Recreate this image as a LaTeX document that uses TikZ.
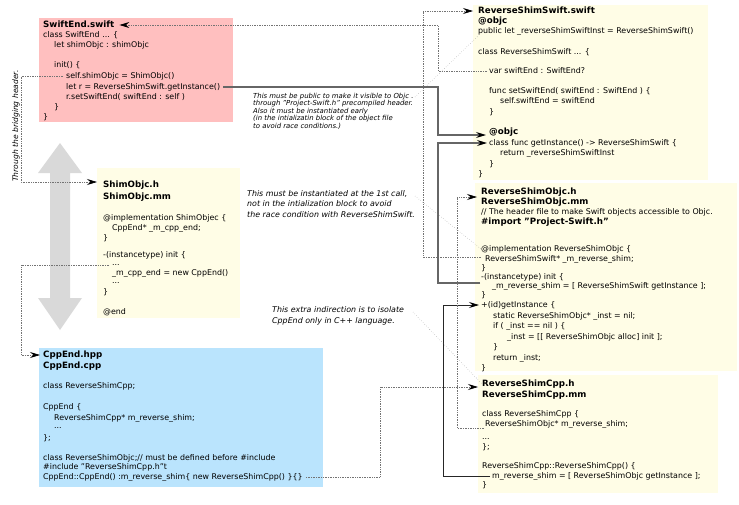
\documentclass[tikz,border=0pt]{standalone}
\usepackage{fontspec}
\setmainfont{DejaVu Sans}
\usetikzlibrary{arrows.meta}
\definecolor{pinkbox}{RGB}{255,191,191}
\definecolor{yelbox}{RGB}{255,253,230}
\definecolor{bluebox}{RGB}{186,228,253}
\definecolor{bigarrow}{RGB}{217,217,217}
\begin{document}
\begin{tikzpicture}[x=1pt,y=-1pt,
  ln/.style={anchor=west, inner sep=0pt, text height=5.8pt, text depth=0pt, font=\fontsize{7.9}{9}\selectfont},
  ttl/.style={anchor=west, inner sep=0pt, text height=5.8pt, text depth=0pt, font=\fontsize{8.7}{10}\selectfont\bfseries},
  dts/.style={anchor=base west, inner sep=0pt, font=\fontsize{7.9}{9}\selectfont},
  bx/.style={anchor=north west, inner sep=0pt, outer sep=0pt, draw=none},
  dotc/.style={draw=black!55, densely dotted, line width=0.7pt},
  solc/.style={draw=black!60, line width=1.1pt},
  sold/.style={draw=black!85, line width=0.8pt},
  tip/.style={-{Stealth[length=10pt,width=6pt,inset=3.5pt,color=black]}},
  diag/.style={draw=black!50, dotted, line width=0.4pt},
  notea/.style={anchor=north west, inner sep=0pt, align=left, font=\fontsize{6.9}{7.5}\selectfont\itshape},
  noteb/.style={anchor=north west, inner sep=0pt, align=left, font=\fontsize{7.9}{10.5}\selectfont\itshape},
  notec/.style={anchor=north west, inner sep=0pt, align=left, font=\fontsize{7.9}{11.5}\selectfont\itshape},
 ]
\useasboundingbox (0,0) rectangle (739,504);

% boxes
\node[bx, fill=pinkbox, minimum width=194pt, minimum height=104pt] (seBox) at (39,18) {};
\node[bx, fill=yelbox, minimum width=235pt, minimum height=175pt] (rssBox) at (473,5) {};
\node[bx, fill=yelbox, minimum width=262pt, minimum height=188pt] (rsoBox) at (475,183) {};
\node[bx, fill=yelbox, minimum width=240pt, minimum height=118pt] (rscBox) at (478,375) {};
\node[bx, fill=yelbox, minimum width=143pt, minimum height=150pt] (soBox) at (97,168) {};
\node[bx, fill=bluebox, minimum width=284pt, minimum height=139pt] (ceBox) at (39,348) {};

% big double arrow
\fill[bigarrow] (60,143) -- (82,173) -- (70,173) -- (70,298) -- (82,298) -- (60,330)
  -- (38,298) -- (50,298) -- (50,173) -- (38,173) -- cycle;

% SwiftEnd.swift
\node[ttl] (seT) at (43,25) {SwiftEnd.swift};
\node[ln] (se1) at (43,35) {class SwiftEnd ... \{};
\node[ln] (se2) at (54,45) {let shimObjc : shimObjc};
\node[ln] (se3) at (54,65) {init() \{};
\node[ln] (seSelf) at (66,76) {self.shimObjc = ShimObjc()};
\node[ln] (seLetr) at (66,87) {let r = ReverseShimSwift.getInstance()};
\node[ln] (se4) at (66,97) {r.setSwiftEnd( swiftEnd : self )};
\node[ln] (se5) at (54,107) {\}};
\node[ln] (se6) at (43,117) {\}};

% ReverseShimSwift.swift
\node[ttl] (rssT) at (478,11) {ReverseShimSwift.swift};
\node[ttl] (rssObjc1) at (478,21) {@objc};
\node[ln] (rssPub) at (478,31) {public let \_reverseShimSwiftInst = ReverseShimSwift()};
\node[ln] (rss1) at (478,52) {class ReverseShimSwift ... \{};
\node[ln] (rssVar) at (489,71) {var swiftEnd : SwiftEnd?};
\node[ln] (rss2) at (489,91) {func setSwiftEnd( swiftEnd : SwiftEnd ) \{};
\node[ln] (rss3) at (500,101) {self.swiftEnd = swiftEnd};
\node[ln] (rss4) at (489,112) {\}};
\node[ttl] (rssObjc2) at (489,132) {@objc};
\node[ln] (rssGi) at (489,143) {class func getInstance() -> ReverseShimSwift \{};
\node[ln] (rss5) at (500,153) {return \_reverseShimSwiftInst};
\node[ln] (rss6) at (489,164) {\}};
\node[ln] (rss7) at (478,174) {\}};

% ReverseShimObjc
\node[ttl] (rsoT) at (481,192) {ReverseShimObjc.h};
\node[ttl] (rsoT2) at (481,202) {ReverseShimObjc.mm};
\node[ln] (rso1) at (481,212) {// The header file to make Swift objects accessible to Objc.};
\node[ttl] (rso2) at (481,222) {\#import "Project-Swift.h"};
\node[ln] (rsoImpl) at (481,249) {@implementation ReverseShimObjc \{};
\node[ln] (rsoMem) at (485,259) {ReverseShimSwift* \_m\_reverse\_shim;};
\node[ln] (rso3) at (481,268) {\}};
\node[ln] (rso4) at (481,277) {-(instancetype) init \{};
\node[ln] (rsoInit) at (492,286) {\_m\_reverse\_shim = [ ReverseShimSwift getInstance ];};
\node[ln] (rso5) at (481,295) {\}};
\node[ln] (rsoGi) at (481,305) {+(id)getInstance \{};
\node[ln] (rso6) at (493,316) {static ReverseShimObjc* \_inst = nil;};
\node[ln] (rso7) at (493,326) {if ( \_inst == nil ) \{};
\node[ln] (rso8) at (507,337) {\_inst = [[ ReverseShimObjc alloc] init ];};
\node[ln] (rso9) at (493,347) {\}};
\node[ln] (rso10) at (493,358) {return \_inst;};
\node[ln] (rso11) at (481,368) {\}};

% ReverseShimCpp
\node[ttl] (rscT) at (482,384) {ReverseShimCpp.h};
\node[ttl] (rscT2) at (482,395) {ReverseShimCpp.mm};
\node[ln] (rsc1) at (482,414) {class ReverseShimCpp \{};
\node[ln] (rscMem) at (485,424) {ReverseShimObjc* m\_reverse\_shim;};
\node[dts] (rsc2) at (482,439) {...};
\node[ln] (rsc3) at (482,447) {\};};
\node[ln] (rsc4) at (482,466) {ReverseShimCpp::ReverseShimCpp() \{};
\node[ln] (rscBody) at (492,476) {m\_reverse\_shim = [ ReverseShimObjc getInstance ];};
\node[ln] (rsc5) at (482,485) {\}};

% ShimObjc
\node[ttl] (soT) at (103,185) {ShimObjc.h};
\node[ttl] (soT2) at (103,197) {ShimObjc.mm};
\node[ln] (so1) at (103,218) {@implementation ShimObjec \{};
\node[ln] (so2) at (112,228) {CppEnd* \_m\_cpp\_end;};
\node[ln] (so3) at (103,238) {\}};
\node[ln] (so4) at (103,255) {-(instancetype) init \{};
\node[dts] (so5) at (112,265) {...};
\node[ln] (soNew) at (112,273) {\_m\_cpp\_end = new CppEnd()};
\node[dts] (so6) at (112,283) {...};
\node[ln] (so7) at (103,292) {\}};
\node[ln] (so8) at (103,312) {@end};

% CppEnd
\node[ttl] (ceT) at (43,355) {CppEnd.hpp};
\node[ttl] (ceT2) at (43,366) {CppEnd.cpp};
\node[ln] (ce1) at (43,386) {class ReverseShimCpp;};
\node[ln] (ce2) at (43,407) {CppEnd \{};
\node[ln] (ce3) at (54,418) {ReverseShimCpp* m\_reverse\_shim;};
\node[dts] (ce4) at (54,428) {...};
\node[ln] (ce5) at (43,438) {\};};
\node[ln] (ce6) at (43,458) {class ReverseShimObjc;// must be defined before \#include};
\node[ln] (ce7) at (43,467) {\#include "ReverseShimCpp.h"t};
\node[ln] (ceLast) at (43,477) {CppEnd::CppEnd() :m\_reverse\_shim\{ new ReverseShimCpp() \}\{\}};

% notes
\node[notea] (n1) at (253,93) {This must be public to make it visible to Objc .\\through "Project-Swift.h" precompiled header.\\Also it must be instantiated early\\(in the intializatin block of the object file\\to avoid race conditions.)};
\node[noteb] (n2) at (247,190) {This must be instantiated at the 1st call,\\not in the intialization block to avoid\\the race condition with ReverseShimSwift.};
\node[notec] (n3) at (272,306) {This extra indirection is to isolate\\CppEnd only in C++ language.};
\node[rotate=90, inner sep=0pt, font=\fontsize{7.6}{9}\selectfont\itshape] (bh) at (16,126) {Through the bridging header.};

% bend coordinates
\coordinate (xA) at (438,0);
\coordinate (xB) at (423,0);
\coordinate (xC) at (443,0);
\coordinate (k4) at (438,283);
\coordinate (k6) at (457,428);
\coordinate (k7) at (380,477);
\coordinate (k8) at (21,265);
\coordinate (k9) at (21,76);
\coordinate (d1) at (415,97);
\coordinate (d2) at (415,196);
\coordinate (d3) at (413,312);

% connectors
\draw[dotc,tip,shorten >=5pt,shorten <=2pt] (rssVar.west) -- (rssVar.west -| xA) |- (seT.east);
\draw[dotc,tip,shorten >=5pt,shorten <=4pt] ([yshift=2pt]rsoMem.west) -- ([yshift=2pt]rsoMem.west -| xB) |- (rssT.west);
\draw[solc,tip,shorten >=3pt,shorten <=3pt] (seLetr.east) -- (seLetr.east -| xA) |- ([yshift=-3pt]rssObjc2.west);
\draw[solc,tip,shorten >=2pt] ([xshift=-12pt,yshift=3pt]rsoInit.west) -- (k4) |- (rssGi.west);
\draw[sold,tip,shorten >=2pt,shorten <=2pt] (rscBody.west) -- (rscBody.west -| xC) |- (rsoGi.west);
\draw[dotc,tip,shorten >=4pt] ([xshift=-1pt,yshift=-4pt]rscMem.west) -- (k6) |- ([yshift=-5pt]rsoT.west);
\draw[dotc,tip,shorten >=4pt,shorten <=3pt] (ceLast.east) -- (k7) |- ([yshift=-3pt]rscT.west);
\draw[dotc,tip,shorten >=3pt] ([xshift=-3pt,yshift=8pt]soNew.west) -- (k8) |- (ceT.west);
\draw[dotc,tip,shorten >=6pt,shorten <=3pt] (seSelf.west) -- (k9) |- ([yshift=3pt]soT.west);

\draw[diag] (d1) -- ([yshift=-5pt]rssPub.west);
\draw[diag] (d2) -- (rsoImpl.west);
\draw[diag] (d3) -- (rscT.west);
\end{tikzpicture}
\end{document}
